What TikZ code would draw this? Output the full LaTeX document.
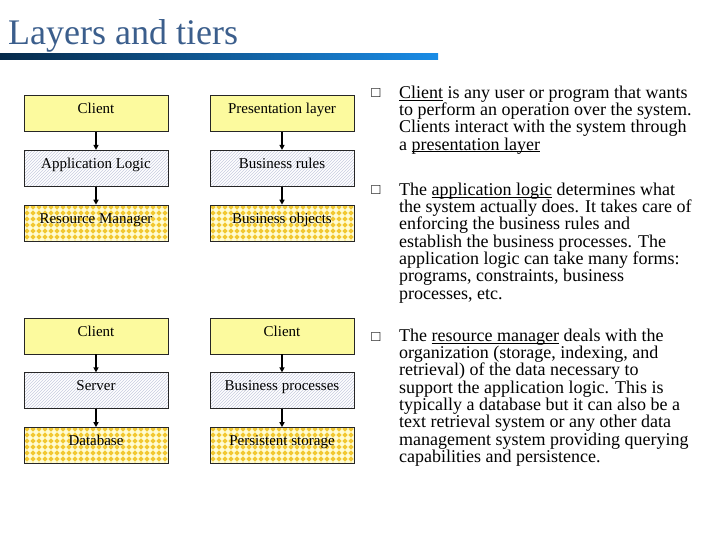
\documentclass[tikz,border=0pt]{standalone}
\usepackage{fontspec}
\setmainfont{Liberation Serif}
\usetikzlibrary{arrows.meta,positioning,patterns}

\definecolor{titleblue}{HTML}{3B5E8C}
\definecolor{barnavy}{HTML}{062A4A}
\definecolor{barblue}{HTML}{1A8CE6}
\definecolor{paleyellow}{HTML}{FCFA9E}
\definecolor{creamyellow}{HTML}{FFFCD2}
\definecolor{goldspot}{HTML}{F2C832}
\definecolor{hatchgrey}{HTML}{C8CCE0}

% underline just under the baseline
\newcommand{\ulword}[1]{\setbox0\hbox{#1}\rlap{\rule[-2pt]{\wd0}{0.8pt}}\box0\relax}

% small gold diamonds for the storage tier
\pgfdeclarepatternformonly{golddiamonds}{\pgfqpoint{-1pt}{-1pt}}{\pgfqpoint{7pt}{7pt}}{\pgfqpoint{6pt}{6pt}}{%
  \pgfpathmoveto{\pgfqpoint{3pt}{0.3pt}}%
  \pgfpathlineto{\pgfqpoint{5.7pt}{3pt}}%
  \pgfpathlineto{\pgfqpoint{3pt}{5.7pt}}%
  \pgfpathlineto{\pgfqpoint{0.3pt}{3pt}}%
  \pgfpathclose\pgfusepath{fill}}

\tikzset{
  tierbox/.style={draw=black!85, line width=0.8pt, minimum width=144pt,
    minimum height=36pt, inner sep=0pt, text height=18pt, text depth=18pt,
    font=\fontsize{15}{15}\selectfont},
  toptier/.style={tierbox, fill=paleyellow},
  midtier/.style={tierbox, preaction={fill=white}, preaction={pattern=north east lines, pattern color=hatchgrey}},
  lowtier/.style={tierbox, preaction={fill=creamyellow}, preaction={pattern=golddiamonds, pattern color=goldspot}},
  tierarrow/.style={line width=1.5pt, -{Triangle[length=5pt,width=5pt]}},
  bodytext/.style={align=left, inner sep=0pt, anchor=north west, font=\fontsize{18}{17.3}\selectfont},
  bulletmark/.style={inner sep=0pt, anchor=base, font=\fontsize{15}{15}\selectfont}
}

\begin{document}
\begin{tikzpicture}[x=1pt,y=-1pt]
\useasboundingbox (0,0) rectangle (720,540);

% Title and bar
\node[anchor=base west, inner sep=0pt, text=titleblue, font=\fontsize{36}{36}\selectfont] (title) at (8,45) {Layers and tiers};
\shade[left color=barnavy, right color=barblue] (0,54) rectangle (438,60);

% Layers
\node[toptier] (client) at (96,113.5) {Client};
\node[midtier, below=18pt of client] (applogic) {Application Logic};
\node[lowtier, below=18pt of applogic] (resmgr) {Resource Manager};
\draw[tierarrow] (client) -- (applogic);
\draw[tierarrow] (applogic) -- (resmgr);

\node[toptier] (preslayer) at (282,113.5) {Presentation layer};
\node[midtier, below=18pt of preslayer] (busrules) {Business rules};
\node[lowtier, below=18pt of busrules] (busobj) {Business objects};
\draw[tierarrow] (preslayer) -- (busrules);
\draw[tierarrow] (busrules) -- (busobj);

% Tiers
\node[toptier] (tierclient) at (96,336) {Client};
\node[midtier, below=18pt of tierclient] (server) {Server};
\node[lowtier, below=18pt of server] (database) {Database};
\draw[tierarrow] (tierclient) -- (server);
\draw[tierarrow] (server) -- (database);

\node[toptier] (busclient) at (282,336) {Client};
\node[midtier, below=18pt of busclient] (busproc) {Business processes};
\node[lowtier, below=18pt of busproc] (persist) {Persistent storage};
\draw[tierarrow] (busclient) -- (busproc);
\draw[tierarrow] (busproc) -- (persist);

% Explanations (first baselines at 98, 195, 341)
\node[bulletmark] (bull1) at (376,98) {□};
\node[bodytext] (expl1) at (399,85.7) {\ulword{Client} is any user or program that wants\\ to perform an operation over the system.\\ Clients interact with the system through\\ a \ulword{presentation layer}};

\node[bulletmark] (bull2) at (376,195) {□};
\node[bodytext] (expl2) at (399,182.7) {The \ulword{application logic} determines what\\ the system actually does. It takes care of\\ enforcing the business rules and\\ establish the business processes. The\\ application logic can take many forms:\\ programs, constraints, business\\ processes, etc.};

\node[bulletmark] (bull3) at (376,341) {□};
\node[bodytext] (expl3) at (399,328.7) {The \ulword{resource manager} deals with the\\ organization (storage, indexing, and\\ retrieval) of the data necessary to\\ support the application logic. This is\\ typically a database but it can also be a\\ text retrieval system or any other data\\ management system providing querying\\ capabilities and persistence.};

\end{tikzpicture}
\end{document}
